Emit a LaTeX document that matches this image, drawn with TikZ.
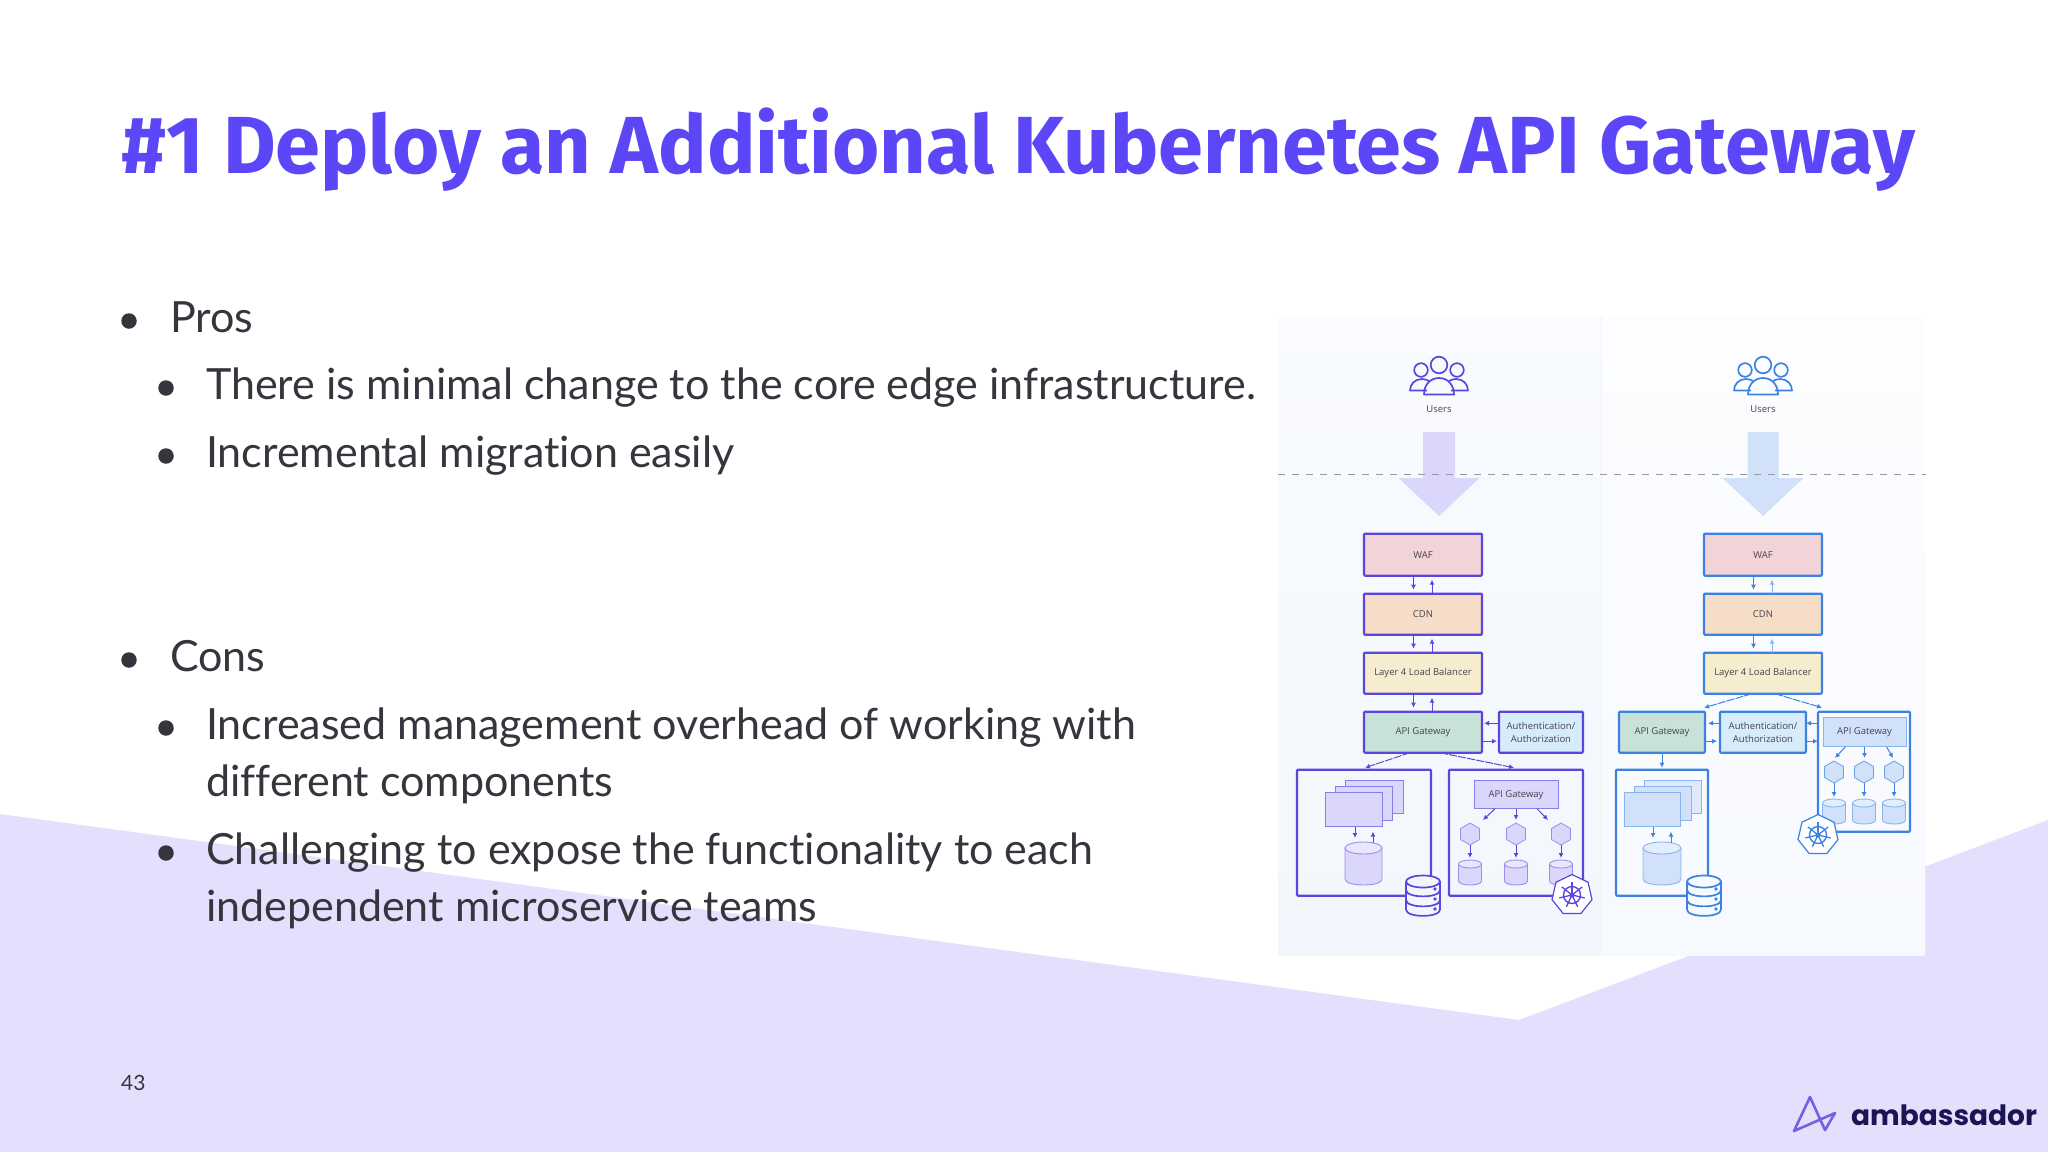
\documentclass[tikz,border=0pt]{standalone}
\usepackage{fontspec}
\setmainfont{Lato}[Ligatures=NoCommon]
\newfontfamily\titlefont{Fira Sans}
\newfontfamily\logofont{Poppins}
\newfontfamily\diafont{Open Sans}
\usetikzlibrary{arrows.meta,shapes.geometric,calc}
\definecolor{bglav}{HTML}{E3DFFD}
\definecolor{titlec}{HTML}{5B46F8}
\definecolor{bodyc}{HTML}{35353D}
\definecolor{pur}{HTML}{5A45DF}
\definecolor{purf}{HTML}{DAD6FC}
\definecolor{blu}{HTML}{3C82E2}
\definecolor{bluf}{HTML}{D0E1F9}
\definecolor{labc}{HTML}{44444E}
\definecolor{navy}{HTML}{1B1554}
\definecolor{pnlAt}{HTML}{F9FBFE}
\definecolor{pnlAb}{HTML}{F1F7FC}
\definecolor{pnlBt}{HTML}{FDFDFF}
\definecolor{pnlBb}{HTML}{F6F9FE}
\definecolor{fwaf}{HTML}{F2D3D7}
\definecolor{fcdn}{HTML}{F5DDC7}
\definecolor{flb}{HTML}{F6EDCF}
\definecolor{fag}{HTML}{C9E2D7}
\definecolor{fau}{HTML}{D6ECFA}
\newcommand{\fs}[1]{\fontsize{#1}{#1}\selectfont}
\newcommand{\lblfont}{\diafont\fontsize{9.5}{13}\selectfont}
\tikzset{
 titletext/.style={anchor=base west,inner sep=0,text=titlec,font=\titlefont\bfseries\fs{81}},
 bodytext/.style={anchor=base west,inner sep=0,text=bodyc,font=\fs{43}},
 dotmark/.style={circle,fill=bodyc,minimum size=15.5pt,inner sep=0},
 bx/.style={draw=#1,line width=2.1pt,inner sep=0,outer sep=0,rounded corners=1pt,align=center,text=labc,font=\lblfont},
 thinbx/.style={draw=#1,line width=1pt,inner sep=0,outer sep=0,align=center,text=labc,font=\lblfont},
 arr/.style={draw=#1,line width=1pt,-{Latex[length=5pt,width=5pt]}},
 darr/.style={draw=#1,line width=1pt,dash pattern=on 8pt off 1.2pt,-{Latex[length=5pt,width=5pt]}},
 hexn/.style={regular polygon,regular polygon sides=6,shape border rotate=30,draw=#1,line width=.8pt,minimum size=22pt,inner sep=0,outer sep=0},
 kn/.style={regular polygon,regular polygon sides=7,draw=#1,fill=white,line width=1.2pt,minimum size=41pt,inner sep=0,outer sep=0},
 iconl/.style={line width=1.7pt,line join=round},
}
% name, x1,y1,x2,y2, style, text
\newcommand{\bxn}[7]{%
 \pgfmathsetmacro{\bxw}{#4-#2}\pgfmathsetmacro{\bxh}{#5-#3}%
 \node[#6,minimum width=\bxw pt,minimum height=\bxh pt] (#1) at ({(#2+#4)/2},{(#3+#5)/2+.7}) {#7};}
% users icon: cx, colour
\newcommand{\usersicon}[2]{\begin{scope}[shift={(#1,0)},draw=#2,iconl]
 \draw (-18,370) circle[radius=6.8pt];
 \draw (18,370) circle[radius=6.8pt];
 \draw (0,365) circle[radius=8.3pt];
 \draw (-12,390.5) -- (-29,390.5) .. controls (-29,384) and (-24,379) .. (-17,379) .. controls (-14,379) and (-12,380) .. (-10,381);
 \draw (12,390.5) -- (29,390.5) .. controls (29,384) and (24,379) .. (17,379) .. controls (14,379) and (12,380) .. (10,381);
 \draw (-15,394.5) .. controls (-15,384) and (-8,378) .. (0,378) .. controls (8,378) and (15,384) .. (15,394.5) -- cycle;
\end{scope}}
% big arrow: cx, half shaft, colour
\newcommand{\bigarrow}[3]{\fill[#3] (#1-#2,432) -- (#1+#2,432) -- (#1+#2,478) -- (#1+40.5,478) -- (#1,516) -- (#1-40.5,478) -- (#1-#2,478) -- cycle;}
% database icon: cx, colour, fill
\newcommand{\dbicon}[3]{\begin{scope}[shift={(#1,0)},draw=#2,iconl]
 \fill[#3] (-17,881) -- (-17,909) .. controls (-17,918) and (17,918) .. (17,909) -- (17,881) -- cycle;
 \draw[fill=#3] (0,881.5) ellipse[x radius=17pt,y radius=6pt];
 \draw (-17,881.5) -- (-17,909.5) .. controls (-17,918) and (17,918) .. (17,909.5) -- (17,881.5);
 \draw (-17,890) .. controls (-17,898.5) and (17,898.5) .. (17,890);
 \draw (-17,900) .. controls (-17,908.5) and (17,908.5) .. (17,900);
 \fill[#2] (12,889) circle[radius=1.8pt] (12,899) circle[radius=1.8pt] (12,909) circle[radius=1.8pt];
\end{scope}}
% cylinder: x1 y1 x2 y2 ry colour fill
\newcommand{\cyl}[7]{%
 \fill[#7] (#1,#2+#5) -- (#1,#4-#5) .. controls (#1,#4+#5*.33) and (#3,#4+#5*.33) .. (#3,#4-#5) -- (#3,#2+#5) -- cycle;
 \draw[#6,line width=.9pt] (#1,#2+#5) -- (#1,#4-#5) .. controls (#1,#4+#5*.33) and (#3,#4+#5*.33) .. (#3,#4-#5) -- (#3,#2+#5);
 \draw[#6,line width=.9pt,fill=#7!60!white] ({((#1)+(#3))/2},#2+#5) ellipse[x radius={((#3)-(#1))/2*1pt},y radius=#5 pt];}
% k8s wheel: name cx cy colour
\newcommand{\ksicon}[4]{%
 \node[kn=#4] (#1) at (#2,#3) {};
 \draw[#4,line width=1.4pt] (#2,#3) circle[radius=8.5pt];
 \foreach \a in {90,141.4,192.8,244.2,295.6,347,398.4}{\draw[#4,line width=1.3pt] (#2,#3) -- ++({13*cos(\a)},{-13*sin(\a)});}
 \fill[#4] (#2,#3) circle[radius=2.5pt];}
\begin{document}
\begin{tikzpicture}[x=1pt,y=-1pt]
\useasboundingbox (0,0) rectangle (2048,1152);
\fill[white] (0,0) rectangle (2048,1152);
\fill[bglav] (0,814) -- (1519,1020) -- (2048,820) -- (2048,1152) -- (0,1152) -- cycle;
% title
\node[titletext] (title) at (121,173) {\#1 Deploy an Additional Kubernetes API Gateway};
% body
\node[dotmark] (b1) at (129,321) {}; \node[bodytext] (t1) at (170,332) {Pros};
\node[dotmark] (b2) at (166,388) {}; \node[bodytext] (t2) at (206,399.5) {There is minimal change to the core edge infrastructure.};
\node[dotmark] (b3) at (166,456) {}; \node[bodytext] (t3) at (206,467.5) {Incremental migration easily};
\node[dotmark] (b4) at (129,660) {}; \node[bodytext] (t4) at (170,671.5) {Cons};
\node[dotmark] (b5) at (166,728) {}; \node[bodytext] (t5) at (206,739.5) {Increased management overhead of working with};
\node[bodytext] (t5b) at (206,796.5) {different components};
\node[dotmark] (b6) at (166,853) {}; \node[bodytext] (t6) at (206,864.5) {Challenging to expose the functionality to each};
\node[bodytext] (t6b) at (206,921.5) {independent microservice teams};
\node[anchor=base west,inner sep=0,text=bodyc,font=\fs{21}] (pg) at (121,1090) {43};
% logo
\draw[line width=2.6pt,draw=pur!85!white,line join=round] (1794,1131) -- (1810,1097) -- (1825,1130) -- (1835,1113) -- cycle;
\node[anchor=base west,inner sep=0,text=navy,font=\logofont\bfseries\fs{28}] (logo) at (1851,1125) {ambassador};
% panel
\shade[top color=pnlAt,bottom color=pnlAb] (1278,316) rectangle (1601,955);
\shade[top color=pnlBt,bottom color=pnlBb] (1601,316) rectangle (1925,955);
\draw[black!5,line width=.8pt] (1601,316) -- (1601,955);
\bigarrow{1439}{16}{purf}
\bigarrow{1763}{15.5}{bluf}
\draw[black!40,line width=.8pt,dash pattern=on 7pt off 7pt] (1278,474) -- (1926,474);
% left column
\usersicon{1439}{pur}
\node[font=\lblfont,text=labc,inner sep=0] (u1) at (1439,409) {Users};
\bxn{waf1}{1364}{533}{1482}{575}{bx=pur,fill=fwaf}{WAF}
\bxn{cdn1}{1364}{593}{1482}{634}{bx=pur,fill=fcdn}{CDN}
\bxn{lb1}{1364}{652}{1482}{693}{bx=pur,fill=flb}{Layer 4 Load Balancer}
\bxn{ag1}{1364}{711}{1482}{752}{bx=pur,fill=fag}{API Gateway}
\bxn{au1}{1499}{711}{1583}{752}{bx=pur,fill=fau}{Authentication/\\Authorization}
\foreach \p/\q in {waf1/cdn1,cdn1/lb1,lb1/ag1}{
 \draw[arr=pur,shorten >=4pt] ([xshift=-9.5]\p.south) -- ([xshift=-9.5]\q.north);
 \draw[arr=pur,shorten >=4pt] ([xshift=9]\q.north) -- ([xshift=9]\p.south);}
\draw[arr=pur,shorten >=2pt] ([yshift=9]au1.west) -- ([yshift=9]ag1.east);
\draw[arr=pur,shorten >=2pt] ([yshift=-9]ag1.east) -- ([yshift=-9]au1.west);
\bxn{dc1}{1297}{769}{1431}{895}{bx=pur}{}
\bxn{k1}{1449}{769}{1583}{895}{bx=pur}{}
\draw[darr=pur] ([xshift=-13]ag1.south) -- ([xshift=-66,yshift=2]dc1.north east);
\draw[darr=pur] ([xshift=17]ag1.south) -- ([xshift=65,yshift=2]k1.north west);
\bxn{s13}{1345}{780}{1403}{813}{thinbx=pur!70!white,fill=purf}{}
\bxn{s12}{1335}{786}{1392}{820}{thinbx=pur!70!white,fill=purf}{}
\bxn{s11}{1325}{792}{1382}{826}{thinbx=pur!70!white,fill=purf}{}
\cyl{1345}{842}{1382}{885}{6}{pur!60!white}{purf}
\coordinate (c1d) at (1355,838);
\coordinate (c1u) at (1373,843);
\draw[arr=pur] (c1d |- s11.south) -- (c1d);
\draw[arr=pur,shorten >=5pt] (c1u) -- (c1u |- s11.south);
\bxn{ig1}{1474}{780}{1558}{808}{thinbx=pur!70!white,fill=purf}{API Gateway}
\foreach \n/\x in {a/1470,b/1516,c/1561}{
 \node[hexn=pur!60!white,fill=purf] (h1\n) at (\x,834) {};
 \cyl{\x-11.5}{860}{\x+11.5}{885}{4}{pur!60!white}{purf}
 \coordinate (cy1\n) at (\x,858);
 \draw[arr=pur] (h1\n.south) -- (cy1\n);
}
\draw[arr=pur] ([xshift=-21]ig1.south) -- ([yshift=3,xshift=13]h1a.north);
\draw[arr=pur] (ig1.south) -- ([yshift=3]h1b.north);
\draw[arr=pur] ([xshift=21]ig1.south) -- ([yshift=3,xshift=-13]h1c.north);
\dbicon{1423}{pur}{pnlAb}
\ksicon{k8s1}{1572}{895}{pur}
% right column
\usersicon{1763}{blu}
\node[font=\lblfont,text=labc,inner sep=0] (u2) at (1763,409) {Users};
\bxn{waf2}{1704}{533}{1822}{575}{bx=blu,fill=fwaf}{WAF}
\bxn{cdn2}{1704}{593}{1822}{634}{bx=blu,fill=fcdn}{CDN}
\bxn{lb2}{1704}{652}{1822}{693}{bx=blu,fill=flb}{Layer 4 Load Balancer}
\bxn{ag2}{1619}{711}{1705}{752}{bx=blu,fill=fag}{API Gateway}
\bxn{au2}{1720}{711}{1806}{752}{bx=blu,fill=fau}{Authentication/\\Authorization}
\foreach \p/\q in {waf2/cdn2,cdn2/lb2}{
 \draw[arr=blu,shorten >=4pt] ([xshift=-9.5]\p.south) -- ([xshift=-9.5]\q.north);
 \draw[arr=blu!60!white,shorten >=4pt] ([xshift=9]\q.north) -- ([xshift=9]\p.south);}
\bxn{k2}{1818}{711}{1910}{831}{bx=blu}{}
\bxn{dc2}{1616}{769}{1708}{895}{bx=blu}{}
\draw[darr=blu] ([xshift=-11]lb2.south) -- ([xshift=-1,yshift=4]ag2.north east);
\draw[darr=blu] ([xshift=12]lb2.south) -- ([xshift=4,yshift=4]k2.north west);
\draw[arr=blu,shorten >=3pt] ([yshift=9]au2.west) -- ([yshift=9]ag2.east);
\draw[arr=blu,shorten >=3pt] ([yshift=-9]ag2.east) -- ([yshift=-9]au2.west);
\draw[arr=blu] ([yshift=9]k2.west |- au2.east) -- ([yshift=9]au2.east);
\draw[arr=blu] ([yshift=-9]au2.east) -- ([yshift=-9]k2.west |- au2.east);
\draw[arr=blu,shorten >=2pt] (ag2.south) -- (ag2.south |- dc2.north);
\bxn{s23}{1644}{780}{1701}{813}{thinbx=blu!60!white,fill=bluf!70!white}{}
\bxn{s22}{1634}{786}{1691}{820}{thinbx=blu!60!white,fill=bluf}{}
\bxn{s21}{1624}{792}{1680}{826}{thinbx=blu!60!white,fill=bluf}{}
\cyl{1643}{842}{1681}{885}{6}{blu!60!white}{bluf}
\coordinate (c2d) at (1653,838);
\coordinate (c2u) at (1671,843);
\draw[arr=blu] (c2d |- s21.south) -- (c2d);
\draw[arr=blu,shorten >=5pt] (c2u) -- (c2u |- s21.south);
\bxn{ig2}{1823}{717}{1906}{746}{thinbx=blu!60!white,fill=bluf}{API Gateway}
\foreach \n/\x in {a/1834,b/1864,c/1894}{
 \node[hexn=blu!75!white,fill=bluf] (h2\n) at (\x,772) {};
 \cyl{\x-11.5}{799}{\x+11.5}{824}{4}{blu!60!white}{bluf}
 \coordinate (cy2\n) at (\x,797);
 \draw[arr=blu] (h2\n.south) -- (cy2\n);
}
\draw[arr=blu] ([xshift=-19]ig2.south) -- ([yshift=3,xshift=1]h2a.north);
\draw[arr=blu] (ig2.south) -- ([yshift=3,xshift=.5]h2b.north);
\draw[arr=blu] ([xshift=22]ig2.south) -- ([yshift=3,xshift=-1]h2c.north);
\dbicon{1704}{blu}{pnlBb}
\ksicon{k8s2}{1818}{835}{blu}
\end{tikzpicture}
\end{document}
